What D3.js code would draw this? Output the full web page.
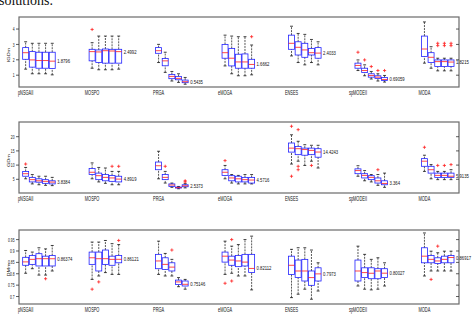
<!DOCTYPE html>
<html>
<head>
<meta charset="utf-8">
<script src="https://cdn.jsdelivr.net/npm/d3@7"></script>
<style>
  body { margin: 0; background: #fff; }
  text { font-family: "Liberation Sans", Arial, sans-serif; fill: #111; }
</style>
</head>
<body>
<div id="chart"></div>
<script>
    const algorithms = ["pNSGAII", "MOSPO", "PRGA", "eMOGA", "ENSES", "spMODEII", "MODA"]
    const metrics = ["IGDm", "GDm", "DMm"]

    // each box: [lower whisker, q1, median, q3, upper whisker], five runs per algorithm
    const igdBoxes = [
        [[1.36, 2.0, 2.43, 2.76, 3.14], [1.06, 1.49, 1.96, 2.5, 3.04], [1.06, 1.42, 1.92, 2.46, 3.04], [1.06, 1.42, 1.92, 2.46, 3.04], [0.99, 1.40, 1.8796, 2.46, 3.04]],
        [[1.42, 1.9, 2.5, 2.65, 3.08], [1.32, 1.79, 2.48, 2.61, 3.51], [1.32, 1.75, 2.56, 2.67, 3.51], [1.32, 1.75, 2.54, 2.65, 3.51], [1.36, 1.75, 2.4992, 2.65, 3.51]],
        [[1.79, 2.39, 2.56, 2.76, 2.97], [1.15, 1.58, 1.9, 2.05, 2.46], [0.59, 0.74, 0.89, 1.02, 1.21], [0.5, 0.67, 0.76, 0.89, 1.06], [0.38, 0.48, 0.5435, 0.65, 0.82]],
        [[1.57, 2.07, 2.43, 2.97, 3.57], [1.06, 1.57, 2.07, 2.71, 3.51], [0.93, 1.42, 1.83, 2.33, 3.47], [0.93, 1.42, 1.83, 2.35, 3.47], [0.99, 1.42, 1.6662, 2.0, 2.93]],
        [[2.22, 2.65, 3.04, 3.57, 4.15], [1.79, 2.28, 2.78, 3.14, 3.68], [1.64, 2.13, 2.61, 3.04, 3.62], [1.79, 2.28, 2.43, 2.71, 3.29], [1.64, 2.07, 2.4033, 2.76, 3.14]],
        [[1.27, 1.42, 1.6, 1.75, 1.96], [0.93, 1.14, 1.27, 1.42, 1.64], [0.72, 0.84, 0.95, 1.06, 1.21], [0.59, 0.76, 0.84, 0.93, 1.06], [0.52, 0.62, 0.69059, 0.82, 0.95]],
        [[1.75, 2.18, 2.67, 3.51, 4.43], [1.42, 1.79, 2.13, 2.43, 2.82], [1.25, 1.53, 1.85, 1.96, 2.07], [1.25, 1.53, 1.85, 1.96, 2.07], [1.25, 1.53, 1.8215, 1.96, 2.07]]
    ]
    // [algorithm, run, value]
    const igdOutliers = [[1, 0, 3.94], [3, 4, 3.47], [5, 0, 2.46], [5, 1, 1.96], [5, 2, 1.53], [5, 3, 1.27], [5, 4, 1.27],
        [6, 2, 3.04], [6, 2, 2.89], [6, 3, 3.04], [6, 3, 2.89], [6, 4, 3.04], [6, 4, 2.89]]
    const igdLabels = ["1.8796", "2.4992", "0.5435", "1.6662", "2.4033", "0.69059", "1.8215"]

    const gdBoxes = [
        [[5.0, 5.9, 6.8, 7.6, 9.0], [3.2, 3.9, 4.7, 5.5, 6.5], [2.9, 3.8, 4.3, 5.0, 5.9], [2.7, 3.4, 4.1, 4.7, 5.9], [2.6, 3.2, 3.8384, 4.3, 5.5]],
        [[5.0, 6.5, 7.3, 8.6, 10.6], [3.9, 4.7, 6.1, 7.0, 9.0], [3.4, 4.3, 5.5, 6.5, 8.8], [2.9, 4.1, 5.3, 6.2, 7.6], [2.9, 3.9, 4.8919, 5.9, 7.6]],
        [[5.0, 8.2, 9.6, 10.9, 14.7], [3.5, 4.7, 5.5, 6.5, 7.6], [2.0, 2.3, 2.8, 3.2, 3.5], [1.5, 1.75, 1.9, 2.1, 2.3], [1.8, 2.2, 2.5373, 2.9, 3.3]],
        [[5.0, 6.2, 7.3, 8.2, 9.7], [3.5, 4.3, 5.3, 6.1, 6.5], [3.2, 3.9, 5.0, 5.9, 6.2], [3.2, 3.9, 4.7, 5.5, 6.5], [3.2, 3.5, 4.5716, 5.5, 6.5]],
        [[10.2, 14.4, 15.8, 17.6, 20.5], [11.2, 13.5, 15.6, 16.4, 18.2], [9.7, 13.3, 15.3, 15.8, 17.0], [11.2, 13.5, 15.0, 15.8, 16.8], [8.8, 12.6, 14.4243, 15.6, 16.8]],
        [[5.9, 6.8, 7.9, 8.5, 9.6], [4.3, 5.3, 6.2, 6.8, 7.9], [3.9, 4.7, 5.5, 6.1, 6.5], [2.7, 3.5, 4.3, 5.3, 6.5], [2.0, 2.9, 3.364, 4.3, 7.0]],
        [[7.6, 9.4, 11.2, 12.1, 13.3], [5.0, 7.0, 8.2, 9.4, 10.0], [4.7, 5.5, 6.2, 7.0, 7.6], [4.7, 5.5, 6.2, 7.0, 7.6], [4.7, 5.5, 5.9135, 7.0, 8.2]]
    ]
    const gdOutliers = [[0, 0, 10.2], [1, 3, 9.4], [1, 4, 9.4], [2, 1, 9.4], [2, 4, 4.3], [2, 4, 3.9], [3, 0, 11.4],
        [4, 0, 23.5], [4, 0, 5.9], [4, 1, 22.3], [4, 1, 9.4], [4, 1, 8.2], [4, 3, 9.7], [5, 3, 8.2],
        [6, 0, 16.1], [6, 2, 9.7], [6, 3, 9.7], [6, 4, 10.0]]
    const gdLabels = ["3.8384", "4.8919", "2.5373", "4.5716", "14.4243", "3.364", "5.9135"]

    const dmBoxes = [
        [[0.8, 0.835, 0.85, 0.87, 0.9], [0.82, 0.839, 0.861, 0.878, 0.893], [0.792, 0.832, 0.864, 0.886, 0.912], [0.792, 0.832, 0.864, 0.875, 0.907], [0.81, 0.832, 0.86374, 0.878, 0.922]],
        [[0.773, 0.839, 0.868, 0.893, 0.937], [0.788, 0.81, 0.864, 0.893, 0.937], [0.803, 0.839, 0.864, 0.902, 0.944], [0.795, 0.835, 0.861, 0.875, 0.93], [0.795, 0.846, 0.86121, 0.878, 0.926]],
        [[0.795, 0.82, 0.854, 0.883, 0.941], [0.788, 0.817, 0.839, 0.868, 0.887], [0.788, 0.81, 0.827, 0.846, 0.861], [0.741, 0.751, 0.762, 0.77, 0.781], [0.73, 0.744, 0.75146, 0.766, 0.773]],
        [[0.795, 0.849, 0.875, 0.893, 0.941], [0.8, 0.835, 0.858, 0.875, 0.919], [0.788, 0.829, 0.854, 0.878, 0.926], [0.788, 0.832, 0.849, 0.883, 0.948], [0.727, 0.803, 0.82112, 0.883, 0.963]],
        [[0.693, 0.795, 0.835, 0.875, 0.905], [0.708, 0.781, 0.81, 0.858, 0.912], [0.73, 0.766, 0.81, 0.861, 0.912], [0.686, 0.747, 0.781, 0.81, 0.902], [0.722, 0.766, 0.7973, 0.824, 0.846]],
        [[0.744, 0.766, 0.81, 0.858, 0.919], [0.73, 0.781, 0.803, 0.824, 0.883], [0.727, 0.776, 0.8, 0.824, 0.861], [0.73, 0.776, 0.81, 0.82, 0.868], [0.744, 0.781, 0.80027, 0.82, 0.846]],
        [[0.788, 0.846, 0.875, 0.912, 0.977], [0.81, 0.846, 0.861, 0.878, 0.897], [0.81, 0.843, 0.854, 0.868, 0.89], [0.81, 0.846, 0.861, 0.875, 0.897], [0.81, 0.846, 0.86917, 0.878, 0.897]]
    ]
    const dmOutliers = [[0, 3, 0.776], [1, 0, 0.73], [1, 1, 0.762], [1, 4, 0.944], [2, 2, 0.902],
        [3, 0, 0.756], [3, 1, 0.948], [3, 1, 0.766], [6, 1, 0.773], [6, 2, 0.919]]
    const dmLabels = ["0.86374", "0.86121", "0.75146", "0.82112", "0.7973", "0.80027", "0.86917"]

    const yTicks = [[1, 2, 3, 4], [5, 10, 15, 20], [0.7, 0.75, 0.8, 0.85, 0.9, 0.95]]

    const w = 474
    const h = 322
    const left = 19, right = 459
    const panels = [
        { boxes: igdBoxes, outliers: igdOutliers, labels: igdLabels, top: 17, bottom: 87, domain: [0.2, 4.75] },
        { boxes: gdBoxes, outliers: gdOutliers, labels: gdLabels, top: 122, bottom: 193, domain: [0, 25] },
        { boxes: dmBoxes, outliers: dmOutliers, labels: dmLabels, top: 230, bottom: 304, domain: [0.665, 0.99] }
    ]

    const svg = d3.select("#chart")
        .append("svg")
        .attr("width", w)
        .attr("height", h)

    // box position: group * 10 + run
    const xScale = d3.scaleLinear()
        .domain([-1, 65.2])
        .range([left, right])
    const pos = (g, j) => xScale(g * 10 + j)
    const halfBox = xScale(0.45) - xScale(0)
    const halfCap = xScale(0.22) - xScale(0)

    function squeezed(sel, x, y, str, size, sx, anchor) {
        return sel.append("text")
            .attr("transform", `translate(${x},${y}) scale(${sx},1)`)
            .attr("text-anchor", anchor || "start")
            .attr("font-size", size)
            .text(str)
    }

    // caption fragment cut at the top of the picture, as in the source page
    svg.append("text")
        .attr("x", -1)
        .attr("y", 5)
        .attr("font-size", 14)
        .style("font-family", "'Liberation Serif', serif")
        .text("solutions.")

    panels.forEach((p, pi) => {
        const y = d3.scaleLinear().domain(p.domain).range([p.bottom, p.top])
        const g = svg.append("g")

        g.append("rect")
            .attr("x", left).attr("y", p.top)
            .attr("width", right - left).attr("height", p.bottom - p.top)
            .attr("fill", "none").attr("stroke", "#6a6a6a").attr("stroke-width", 1.2)

        const ax = g.append("g")
            .attr("transform", `translate(${left},0)`)
            .call(d3.axisLeft(y).tickValues(yTicks[pi]).tickSize(3).tickFormat(d => String(d)))
        ax.select(".domain").remove()
        ax.selectAll("line").attr("stroke", "#333").attr("stroke-width", 0.8)
        ax.selectAll("text")
            .attr("x", null).attr("dy", "0.35em")
            .attr("font-size", 6).attr("font-family", null)
            .attr("transform", "translate(-4.5,0) scale(0.55,1)")

        const axr = g.append("g")
            .attr("transform", `translate(${right},0)`)
            .call(d3.axisRight(y).tickValues(yTicks[pi]).tickSize(-3).tickFormat(""))
        axr.select(".domain").remove()
        axr.selectAll("line").attr("stroke", "#333").attr("stroke-width", 0.8)

        squeezed(g, 0, 0, metrics[pi], 6.5, 1)
            .attr("transform", `translate(10,${(p.top + p.bottom) / 2 + 3}) rotate(-90) scale(0.85,0.62)`)
            .attr("text-anchor", "middle")

        algorithms.forEach((name, gi) => {
            squeezed(g, pos(gi, 0), p.bottom + 8, name, 7, 0.56, "middle")

            p.boxes[gi].forEach((b, j) => {
                const cx = pos(gi, j)
                const [lo, q1, med, q3, hi] = b
                g.append("line")
                    .attr("x1", cx).attr("x2", cx).attr("y1", y(q3)).attr("y2", y(hi))
                    .attr("stroke", "#111").attr("stroke-width", 0.7).attr("stroke-dasharray", "2,1")
                g.append("line")
                    .attr("x1", cx).attr("x2", cx).attr("y1", y(lo)).attr("y2", y(q1))
                    .attr("stroke", "#111").attr("stroke-width", 0.7).attr("stroke-dasharray", "2,1")
                ;[lo, hi].forEach(v => {
                    g.append("line")
                        .attr("x1", cx - halfCap).attr("x2", cx + halfCap)
                        .attr("y1", y(v)).attr("y2", y(v))
                        .attr("stroke", "#111").attr("stroke-width", 0.8)
                })
                g.append("rect")
                    .attr("x", cx - halfBox).attr("y", y(q3))
                    .attr("width", halfBox * 2).attr("height", y(q1) - y(q3))
                    .attr("fill", "none").attr("stroke", "#2222ff").attr("stroke-width", 0.8)
                g.append("line")
                    .attr("x1", cx - halfBox).attr("x2", cx + halfBox)
                    .attr("y1", y(med)).attr("y2", y(med))
                    .attr("stroke", "#ff1a1a").attr("stroke-width", 0.8)
            })

            const last = p.labels[gi]
            squeezed(g, pos(gi, 4) + halfBox + 2, y(+last) + 2, last, 6, 0.7)
        })

        p.outliers.forEach(o => {
            const cx = pos(o[0], o[1])
            const cy = y(o[2])
            g.append("path")
                .attr("d", `M${cx - 1.6},${cy}H${cx + 1.6}M${cx},${cy - 1.6}V${cy + 1.6}`)
                .attr("stroke", "#ff2020").attr("stroke-width", 0.8)
        })
    })
</script>
</body>
</html>
